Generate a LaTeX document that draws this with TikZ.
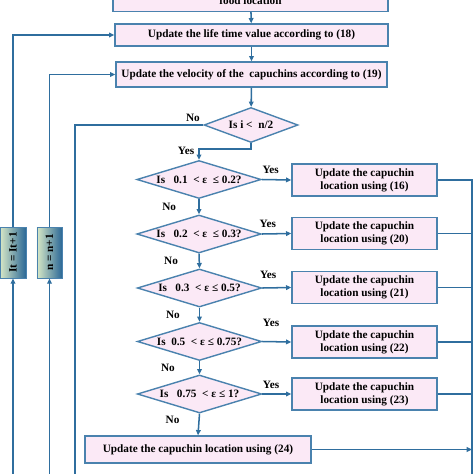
\documentclass[tikz,border=0pt]{standalone}
\usepackage{fontspec}
\setmainfont{Liberation Serif}
\usepackage{graphicx}
\usetikzlibrary{calc,arrows.meta,shapes.geometric}
\definecolor{edge}{HTML}{2F6E9E}
\definecolor{frame}{HTML}{4A82AE}
\definecolor{pinkbg}{HTML}{FBE9F6}
\definecolor{shadeL}{HTML}{D6E7C6}
\definecolor{shadeR}{HTML}{2B6896}
\tikzset{
  flow/.style={draw=edge, line width=1.3pt},
  arr/.style={flow, -{Triangle[length=4.5pt,width=4pt]}},
  lab/.style={font=\fontsize{9.6}{11}\selectfont\bfseries, text=black},
  proc/.style={lab, draw=frame, line width=1.2pt, fill=pinkbg, align=center, inner sep=0pt},
  dec/.style={lab, diamond, draw=frame, line width=1.2pt, fill=pinkbg, inner sep=0pt,
    minimum width=3.73cm, minimum height=1.14cm},
  cnt/.style={lab, draw=frame, line width=0.8pt, left color=shadeL, right color=shadeR,
    inner sep=0pt, minimum height=1.53cm},
  upd/.style={proc, minimum width=4.35cm, minimum height=0.96cm},
}

\begin{document}
\begin{tikzpicture}[x=0.03cm,y=-0.03cm]
  \useasboundingbox (0,0) rectangle (474,474);
  \clip (0,0) rectangle (474,474);

  \coordinate (itB) at (13,490);
  \coordinate (nB) at (49.5,490);
  \coordinate (noB) at (75,490);
  \coordinate (rT) at (472,180);
  \coordinate (rB) at (472,490);

  \node[proc, minimum width=8.25cm, text height=1cm, text depth=0.2cm, anchor=south] (init) at (250.5,12) {food location};
  \node[proc, minimum width=8.19cm, minimum height=0.66cm] (life) at (251.5,35) {Update the life time value according to (18)};
  \node[proc, minimum width=8.13cm, minimum height=0.75cm] (velo) at (251.5,74.5) {Update the velocity of the~ capuchins according to (19)};

  \node[dec, minimum width=2.82cm, minimum height=1.05cm] (q0) at (251,125) {\makebox[0pt]{Is i <~ n/2}};
  \node[dec] (q1) at (199,179.5) {\makebox[0pt]{Is~~ 0.1~ < ε~ ≤ 0.2?}};
  \node[dec] (q2) at (199,234) {\makebox[0pt]{Is~~ 0.2~ < ε~ ≤ 0.3?}};
  \node[dec] (q3) at (199.5,288) {\makebox[0pt]{Is~~ 0.3~ < ε ≤ 0.5?}};
  \node[dec] (q4) at (199.5,341.5) {\makebox[0pt]{Is~ 0.5~ < ε ≤ 0.75?}};
  \node[dec] (q5) at (199.5,394) {\makebox[0pt]{Is~~ 0.75~ < ε ≤ 1?}};

  \node[upd] (u16) at (364.5,180) {Update the capuchin\\location using (16)};
  \node[upd] (u20) at (364.5,233.5) {Update the capuchin\\location using (20)};
  \node[upd] (u21) at (364.5,287.5) {Update the capuchin\\location using (21)};
  \node[upd] (u22) at (364.5,342) {Update the capuchin\\location using (22)};
  \node[upd] (u23) at (364.5,394) {Update the capuchin\\location using (23)};
  \node[proc, minimum width=6.78cm, minimum height=0.81cm] (u24) at (198,449.5) {Update the capuchin location using (24)};

  \node[cnt, minimum width=0.78cm] (cntIt) at (13,252.5) {\rotatebox{90}{It = It+1}};
  \node[cnt, minimum width=0.75cm] (cntN) at (49.5,252.5) {\rotatebox{90}{n = n+1}};

  \draw[arr] (init) -- (life);
  \draw[arr] (life) -- (velo);
  \draw[arr] (velo) -- (q0);
  \draw[arr] (itB) -- (cntIt.south);
  \draw[arr] (cntIt.north) |- (life.west);
  \draw[arr] (nB) -- (cntN.south);
  \draw[arr] (cntN.north) |- (velo.west);

  \draw[flow] (q0.west) -| (noB);
  \node[lab] (noQ0) at (193,118) {No};
  \draw[arr] (q0.south) -- ++(0,6) -| (q1.north);
  \node[lab] (yesQ0) at (186,151) {Yes};

  \draw[arr] (q1.south) -- (q2.north) node[lab, midway, left=0.55cm] {No};
  \draw[arr] (q2.south) -- (q3.north) node[lab, midway, left=0.5cm] {No};
  \draw[arr] (q3.south) -- (q4.north) node[lab, midway, left=0.45cm] {No};
  \draw[arr] (q4.south) -- (q5.north) node[lab, midway, left=0.6cm] {No};
  \draw[arr] (q5.south) -- (u24.north) node[lab, pos=0.3, left=0.45cm] {No};

  \draw[arr] (q1.east) -- (u16.west) node[lab, pos=0.3, above=1pt] {Yes};
  \draw[arr] (q2.east) -- (u20.west) node[lab, pos=0.2, above=1pt] {Yes};
  \draw[arr] (q3.east) -- (u21.west) node[lab, pos=0.2, above=4pt] {Yes};
  \draw[arr] (q4.east) -- (u22.west) node[lab, pos=0.3, above=9pt] {Yes};
  \draw[arr] (q5.east) -- (u23.west) node[lab, pos=0.3, above=1pt] {Yes};

  \draw[flow] (u16.east) -- (rT) -- (rB);
  \draw[flow] (u20.east) -- (u20.east -| rT);
  \draw[flow] (u21.east) -- (u21.east -| rT);
  \draw[flow] (u22.east) -- (u22.east -| rT);
  \draw[flow] (u23.east) -- (u23.east -| rT);
  \draw[arr] (u24.east) -- (u24.east -| rT);
\end{tikzpicture}
\end{document}
